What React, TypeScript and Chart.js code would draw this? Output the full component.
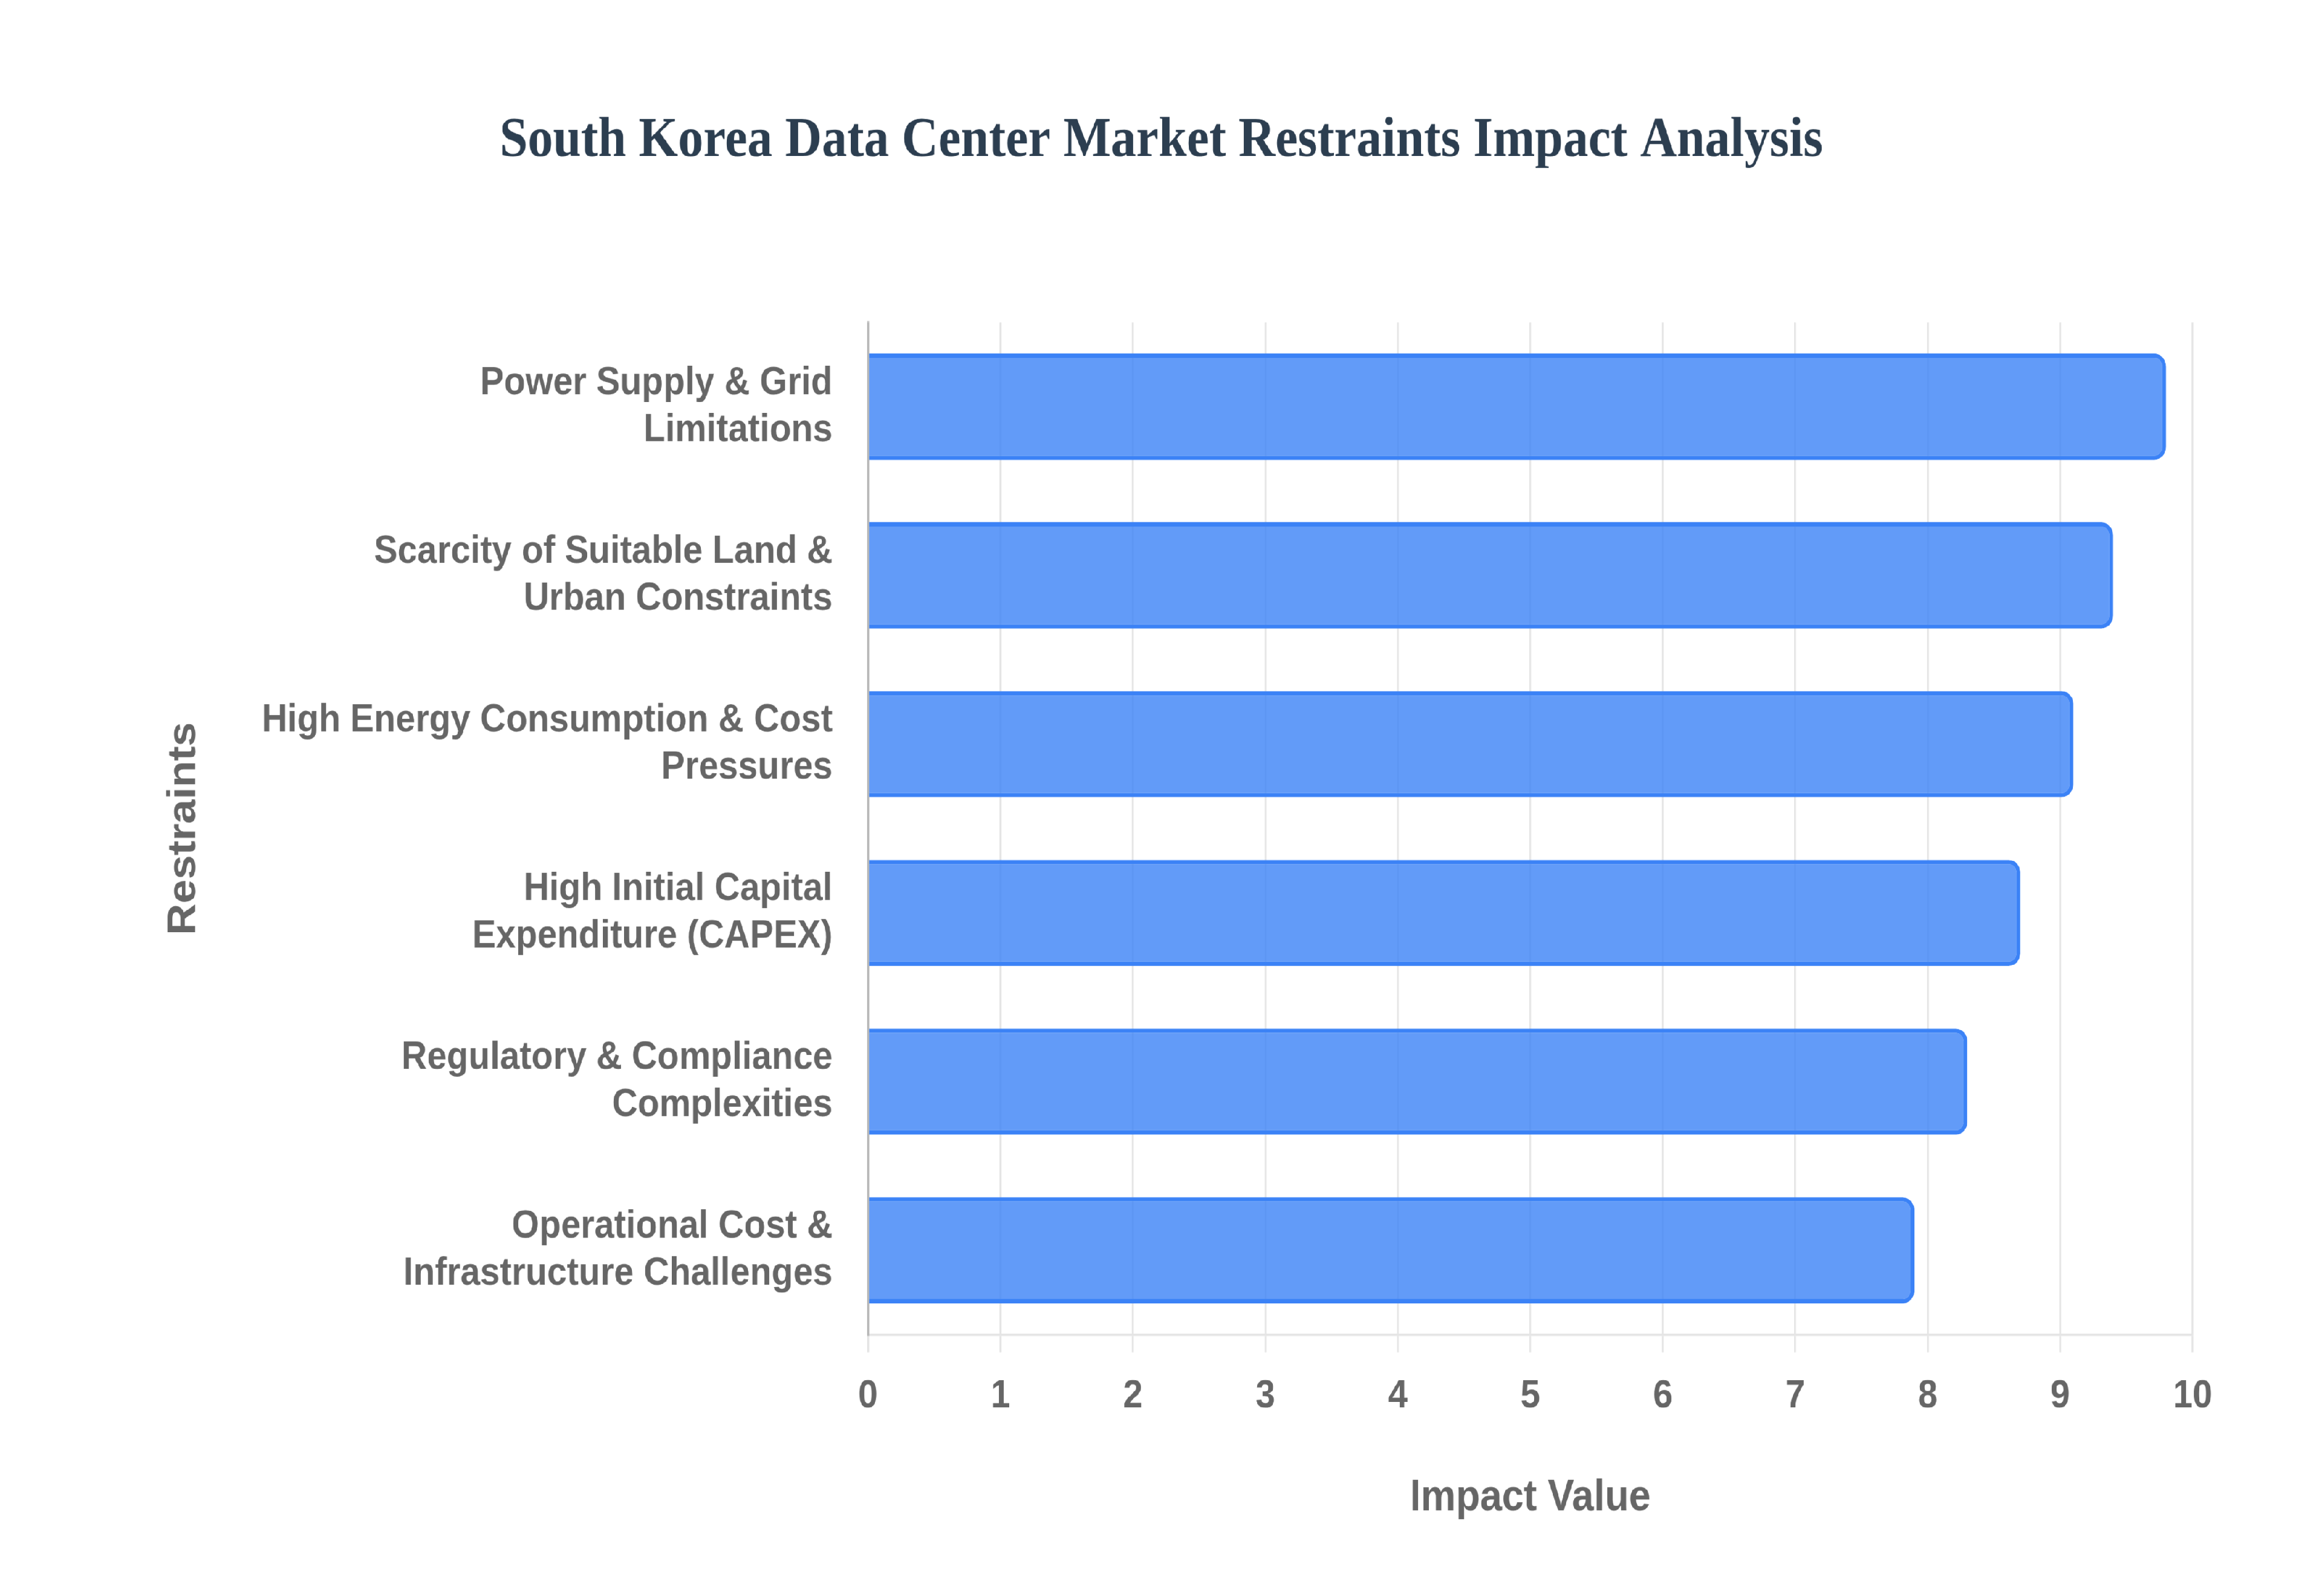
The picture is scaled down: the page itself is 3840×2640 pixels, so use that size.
import { useEffect, useRef } from "react";
import { Chart, registerables, type ChartConfiguration } from "chart.js";

Chart.register(...registerables);

const restraintLabels: string[][] = [
  ["Power Supply & Grid", "Limitations"],
  ["Scarcity of Suitable Land &", "Urban Constraints"],
  ["High Energy Consumption & Cost", "Pressures"],
  ["High Initial Capital", "Expenditure (CAPEX)"],
  ["Regulatory & Compliance", "Complexities"],
  ["Operational Cost &", "Infrastructure Challenges"],
];
const impactValues: number[] = [9.8, 9.4, 9.1, 8.7, 8.3, 7.9];
const impactAxisMin = 0;
const impactAxisMax = 10;
const impactAxisStep = 1;

// the reference is a 1180x733 chart stretched to 3840x2640 (not uniformly)
const BASE_W = 1180;
const BASE_H = 733;
const SCALE_X = 3840 / BASE_W;
const SCALE_Y = 2640 / BASE_H;

const SANS = "'Liberation Sans', Arial, Helvetica, sans-serif";
const SERIF = "'Liberation Serif', 'Times New Roman', Times, serif";
const GREY = "#666666";

export default function App() {
  const canvasRef = useRef<HTMLCanvasElement | null>(null);
  const chartRef = useRef<Chart<"bar"> | null>(null);

  useEffect(() => {
    document.documentElement.style.overflow = "hidden";
    const canvas = canvasRef.current;
    if (!canvas) return;

    const config: ChartConfiguration<"bar"> = {
      type: "bar",
      data: {
        labels: restraintLabels,
        datasets: [
          {
            label: "Impact Value",
            data: impactValues,
            backgroundColor: "rgba(59, 130, 246, 0.8)",
            borderColor: "rgb(59, 130, 246)",
            borderWidth: 2,
            borderRadius: 6,
            barPercentage: 0.7,
            categoryPercentage: 0.9,
          },
        ],
      },
      options: {
        indexAxis: "y",
        responsive: true,
        maintainAspectRatio: false,
        animation: false,
        devicePixelRatio: SCALE_Y,
        layout: {
          padding: { left: 66, right: 66, top: 20, bottom: 25 },
        },
        plugins: {
          legend: { display: false },
          tooltip: { enabled: false },
          title: {
            display: true,
            text: "South Korea Data Center Market Restraints Impact Analysis",
            color: "#2c3e50",
            font: { family: SERIF, size: 25.7, weight: "bold" },
            padding: { top: 29.5, bottom: 67.7 },
          },
        },
        scales: {
          x: {
            min: impactAxisMin,
            max: impactAxisMax,
            afterFit: (scale) => {
              scale.height = 95;
            },
            ticks: {
              stepSize: impactAxisStep,
              color: GREY,
              padding: 9.5,
              font: { family: SANS, size: 18, weight: "bold" },
            },
            grid: { color: "rgba(0, 0, 0, 0.1)" },
            border: { color: "rgba(0, 0, 0, 0.1)" },
            title: {
              display: true,
              text: "Impact Value",
              color: GREY,
              font: { family: SANS, size: 20, weight: "bold" },
              padding: { top: 4, bottom: 8 },
            },
          },
          y: {
            afterFit: (scale) => {
              scale.width = 375;
            },
            ticks: {
              color: GREY,
              padding: 18,
              font: { family: SANS, size: 18, weight: "bold" },
            },
            grid: { display: false, drawTicks: false },
            border: { color: "rgba(0, 0, 0, 0.2)" },
            title: {
              display: true,
              text: "Restraints",
              color: GREY,
              font: { family: SANS, size: 20, weight: "bold" },
              padding: { top: 15.5, bottom: 4 },
            },
          },
        },
      },
    };

    chartRef.current = new Chart(canvas, config);
    return () => {
      if (chartRef.current) {
        chartRef.current.destroy();
        chartRef.current = null;
      }
    };
  }, []);

  return (
    <div
      style={{
        position: "absolute",
        left: 0,
        top: 0,
        width: BASE_W,
        height: BASE_H,
        background: "#ffffff",
        transform: `scale(${SCALE_X}, ${SCALE_Y})`,
        transformOrigin: "0 0",
      }}
    >
      <canvas ref={canvasRef} />
    </div>
  );
}
